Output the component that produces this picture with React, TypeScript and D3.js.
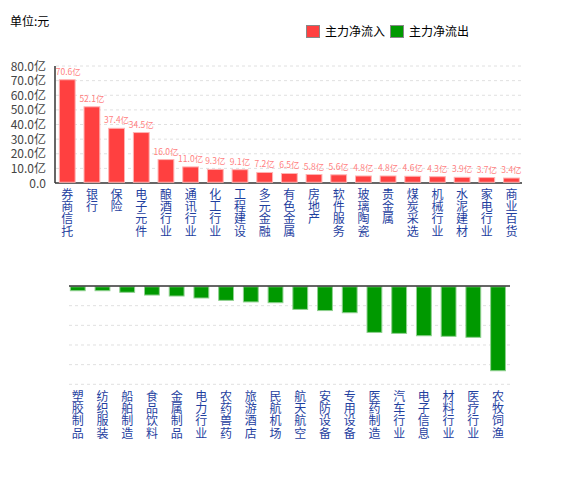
import React from "react";
import * as d3 from "d3";

const inCategories = [
  "券商信托", "银行", "保险", "电子元件", "酿酒行业", "通讯行业", "化工行业", "工程建设", "多元金融",
  "有色金属", "房地产", "软件服务", "玻璃陶瓷", "贵金属", "煤炭采选", "机械行业", "水泥建材", "家电行业", "商业百货",
];
const inValues = [70.6, 52.1, 37.4, 34.5, 16.0, 11.0, 9.3, 9.1, 7.2, 6.5, 5.8, 5.6, 4.8, 4.8, 4.6, 4.3, 3.9, 3.7, 3.4];

const outCategories = [
  "塑胶制品", "纺织服装", "船舶制造", "食品饮料", "金属制品", "电力行业", "农药兽药", "旅游酒店", "民航机场",
  "航天航空", "安防设备", "专用设备", "医药制造", "汽车行业", "电子信息", "材料行业", "医疗行业", "农牧饲渔",
];
// estimated, same unit as the top chart (亿)
const outValues = [2.4, 2.4, 3.2, 4.6, 5.1, 6.1, 7.3, 8.1, 8.5, 11.9, 12.5, 13.6, 23.6, 24.1, 25.3, 25.6, 26.1, 43.1];

const inTicks = [0, 10, 20, 30, 40, 50, 60, 70, 80];
const outTicks = [10, 20, 30, 40, 50];

const font = "'Noto Sans CJK SC', 'Noto Sans', sans-serif";
const labelColor = "#1f3f9f";

// category names are stacked one character per line
const VerticalLabel = ({ x, y, text }: { x: number; y: number; text: string }) => (
  <g>
    {Array.from(text).map((ch, i) => (
      <text key={i} x={x} y={y + i * 12.4} textAnchor="middle" fontSize={12} fill={labelColor} fontFamily={font}>
        {ch}
      </text>
    ))}
  </g>
);

const App = () => {
  const width = 573;
  const height = 484;

  // top chart: net inflow
  const xIn = d3.scaleBand<string>().domain(inCategories).range([54.9, 523.8]).paddingInner(0.36).paddingOuter(0.18);
  const yIn = d3.scaleLinear().domain([0, 80]).range([183, 66]);
  const fmt = d3.format(".1f");

  // bottom chart: net outflow (drawn downward)
  const xOut = d3.scaleBand<string>().domain(outCategories).range([65.4, 510.4]).paddingInner(0.4).paddingOuter(0.2);
  const yOut = d3.scaleLinear().domain([0, 50]).range([286, 384.3]);

  return (
    <svg width={width} height={height} style={{ position: "absolute", left: 0, top: 0 }} fontFamily={font}>
      <rect width={width} height={height} fill="#fff" />
      <text x={10} y={26} fontSize={12} fill="#000">单位:元</text>

      {/* legend */}
      <rect x={306.5} y={25.5} width={13} height={12} fill="#ff4040" stroke="#888" />
      <text x={325} y={36} fontSize={12} fill="#000">主力净流入</text>
      <rect x={390.5} y={25.5} width={13} height={12} fill="#009900" stroke="#888" />
      <text x={409} y={36} fontSize={12} fill="#000">主力净流出</text>

      {/* top grid and axis */}
      {inTicks.map((t) => (
        <g key={t}>
          {t > 0 && (
            <line x1={56} x2={522} y1={yIn(t)} y2={yIn(t)} stroke="#e0e0e0" strokeDasharray="3,3" />
          )}
          <text x={46} y={yIn(t) + 4.5} textAnchor="end" fontSize={12} fill="#444">
            {t === 0 ? fmt(t) : `${fmt(t)}亿`}
          </text>
        </g>
      ))}
      <line x1={55} x2={55} y1={66} y2={183} stroke="#333" strokeWidth={1.5} />
      <line x1={55} x2={522} y1={183} y2={183} stroke="#333" strokeWidth={1.5} />
      {inCategories.map((c, i) => {
        const x = xIn(c) as number;
        const bw = xIn.bandwidth();
        const v = inValues[i];
        return (
          <g key={c}>
            <rect x={x} y={yIn(v)} width={bw} height={yIn(0) - yIn(v) - 0.75} fill="#ff4040" stroke="#ffb3b3" strokeWidth={1} />
            <text x={x + bw / 2 + (i === 0 ? 1 : 0)} y={yIn(v) - 5} textAnchor="middle" fontSize={8.5} fill="#ff7f7f">
              {`${fmt(v)}亿`}
            </text>
            <VerticalLabel x={x + bw / 2} y={198.5} text={c} />
          </g>
        );
      })}

      {/* bottom grid and axis */}
      {outTicks.map((t) => (
        <line key={t} x1={69} x2={510} y1={yOut(t)} y2={yOut(t)} stroke="#e0e0e0" strokeDasharray="3,3" />
      ))}
      {outCategories.map((c, i) => {
        const x = xOut(c) as number;
        const bw = xOut.bandwidth();
        const v = outValues[i];
        return (
          <g key={c}>
            <rect x={x} y={yOut(0) + 0.75} width={bw} height={yOut(v) - yOut(0) - 0.75} fill="#009900" stroke="#8fd08f" strokeWidth={1} />
            <VerticalLabel x={x + bw / 2} y={400.5} text={c} />
          </g>
        );
      })}
      <line x1={69} x2={510} y1={286} y2={286} stroke="#333" strokeWidth={1.5} />
    </svg>
  );
};

export default App;
